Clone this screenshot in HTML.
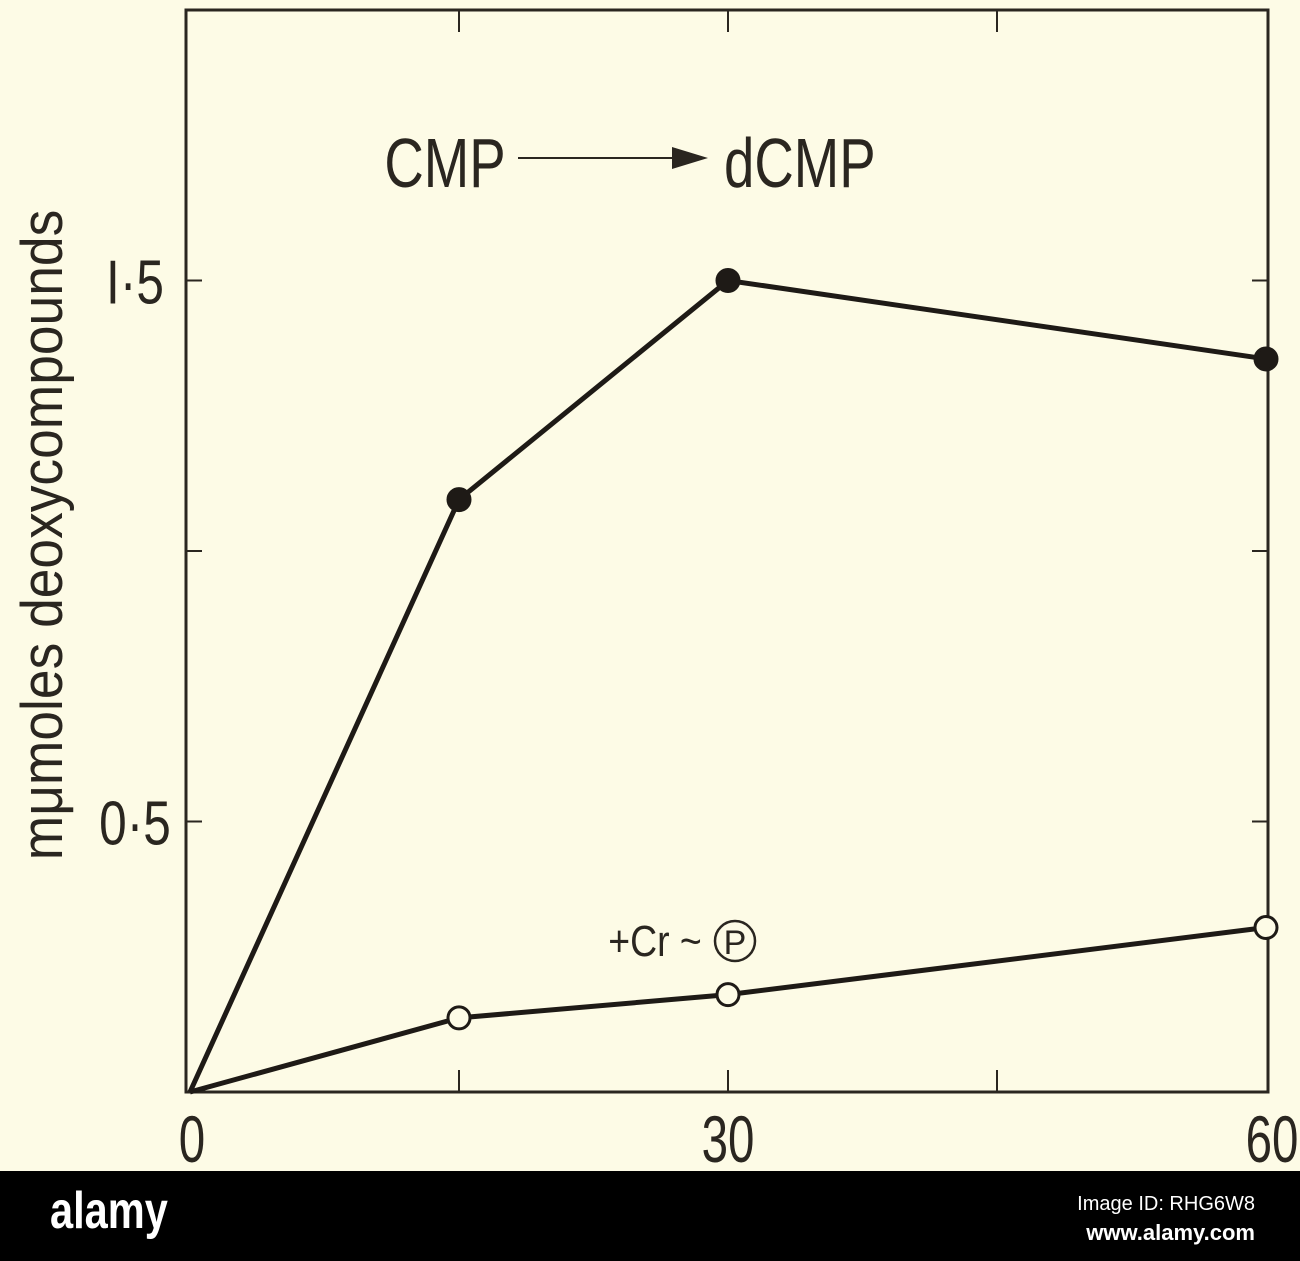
<!DOCTYPE html>
<html><head><meta charset="utf-8"><style>
html,body{margin:0;padding:0;background:#fdfbe6;}
svg{display:block}
text{font-family:"Liberation Sans","DejaVu Sans",sans-serif;fill:#2a2620}
</style></head><body>
<svg width="1300" height="1261" viewBox="0 0 1300 1261">
<rect x="0" y="0" width="1300" height="1171" fill="#fdfbe6"/>
<g id="plot"></g>
<rect x="0" y="1171" width="1300" height="90" fill="#000"/>
<text x="50" y="1228" style="fill:#fff;font-weight:bold" font-size="52" transform="translate(50 0) scale(0.8 1) translate(-50 0)">alamy</text>
<text x="1255" y="1210" text-anchor="end" style="fill:#fff" font-size="20">Image ID: RHG6W8</text>
<text x="1255" y="1240" text-anchor="end" style="fill:#fff;font-weight:bold" font-size="22">www.alamy.com</text>
</svg>
<script>
const xs=[0,15,30,60];
const filledY=[0,1.095,1.5,1.355];
const openY=[0,0.137,0.18,0.304];
const yTicks=[0.5,1,1.5];
const yTickLabels=["0·5","","I·5"];
const xTickLabels=[[0,"0"],[30,"30"],[60,"60"]];
const X0=190,X1=1266,Y0=1092,Y1=10;
const sx=v=>X0+(X1-X0)*v/60, sy=v=>Y0-(Y0-Y1)*v/2;
const g=document.getElementById('plot'),NS='http://www.w3.org/2000/svg';
function mk(t,a){const e=document.createElementNS(NS,t);for(const k in a)e.setAttribute(k,a[k]);g.appendChild(e);return e;}
function narrow(el,x,y,s){el.setAttribute('transform',`translate(${x} ${y}) scale(${s} 1) translate(${-x} ${-y})`);}
let e=mk('rect',{x:X0-4,y:Y1,width:X1-X0+6,height:Y0-Y1,fill:'none',stroke:'#2a2620','stroke-width':3});


[15,30,45].forEach(v=>{
 let t=mk('line',{x1:sx(v),x2:sx(v),y1:Y0,y2:Y0-22,stroke:'#2a2620','stroke-width':2});
 
 
 t=mk('line',{x1:sx(v),x2:sx(v),y1:Y1,y2:Y1+22,stroke:'#2a2620','stroke-width':2});
 
 
});
yTicks.forEach((v,i)=>{
 let t=mk('line',{x1:X0-4,x2:X0+12,y1:sy(v),y2:sy(v),stroke:'#2a2620','stroke-width':2});
 
 
 t=mk('line',{x1:X1-14,x2:X1+2,y1:sy(v),y2:sy(v),stroke:'#2a2620','stroke-width':2});
 
 
 if(yTickLabels[i]){t=mk('text',{x:X0-55,y:sy(v)+23,'text-anchor':'middle','font-size':62});t.textContent=yTickLabels[i];
 narrow(t,X0-55,sy(v),0.8);
 
 }
});
xTickLabels.forEach(([v,l])=>{
 const cx=sx(v)+(v==60?6:(v==0?2:0));
 const t=mk('text',{x:cx,y:1162,'text-anchor':'middle','font-size':66});t.textContent=l;
 narrow(t,cx,1162,0.72);
 
 
});
let yl=mk('text',{x:0,y:0,'text-anchor':'middle','font-size':58,transform:'translate(62 535) rotate(-90) scale(0.92 1)'});
yl.textContent='mμmoles  deoxycompounds';


function series(ys,fill,name){
 const p=mk('polyline',{points:xs.map((x,i)=>sx(x)+','+sy(ys[i])).join(' '),fill:'none',stroke:'#1e1a16','stroke-width':5});
 
 
 xs.forEach((x,i)=>{if(i==0)return;
  const c=mk('circle',{cx:sx(x),cy:sy(ys[i]),r:11,fill:fill,stroke:'#1e1a16','stroke-width':3});
  
  
 });
}
series(filledY,'#1e1a16','cmp-dcmp');
series(openY,'#fdfbe6','creatine-phosphate');
let t=mk('text',{x:445,y:187,'font-size':70,'text-anchor':'middle'});t.textContent='CMP';
narrow(t,445,187,0.78);


t=mk('line',{x1:518,x2:690,y1:158,y2:158,stroke:'#2a2620','stroke-width':2});


t=mk('polygon',{points:'672,147 708,158 672,169',fill:'#2a2620'});


t=mk('text',{x:724,y:187,'font-size':70});t.textContent='dCMP';
narrow(t,724,187,0.78);


t=mk('text',{x:655,y:956,'font-size':44,'text-anchor':'middle'});t.textContent='+Cr ~';
narrow(t,655,956,0.85);


t=mk('circle',{cx:735,cy:941,r:20,fill:'none',stroke:'#2a2620','stroke-width':2.5});


t=mk('text',{x:735,y:954,'text-anchor':'middle','font-size':34});t.textContent='P';


</script>
</body></html>
